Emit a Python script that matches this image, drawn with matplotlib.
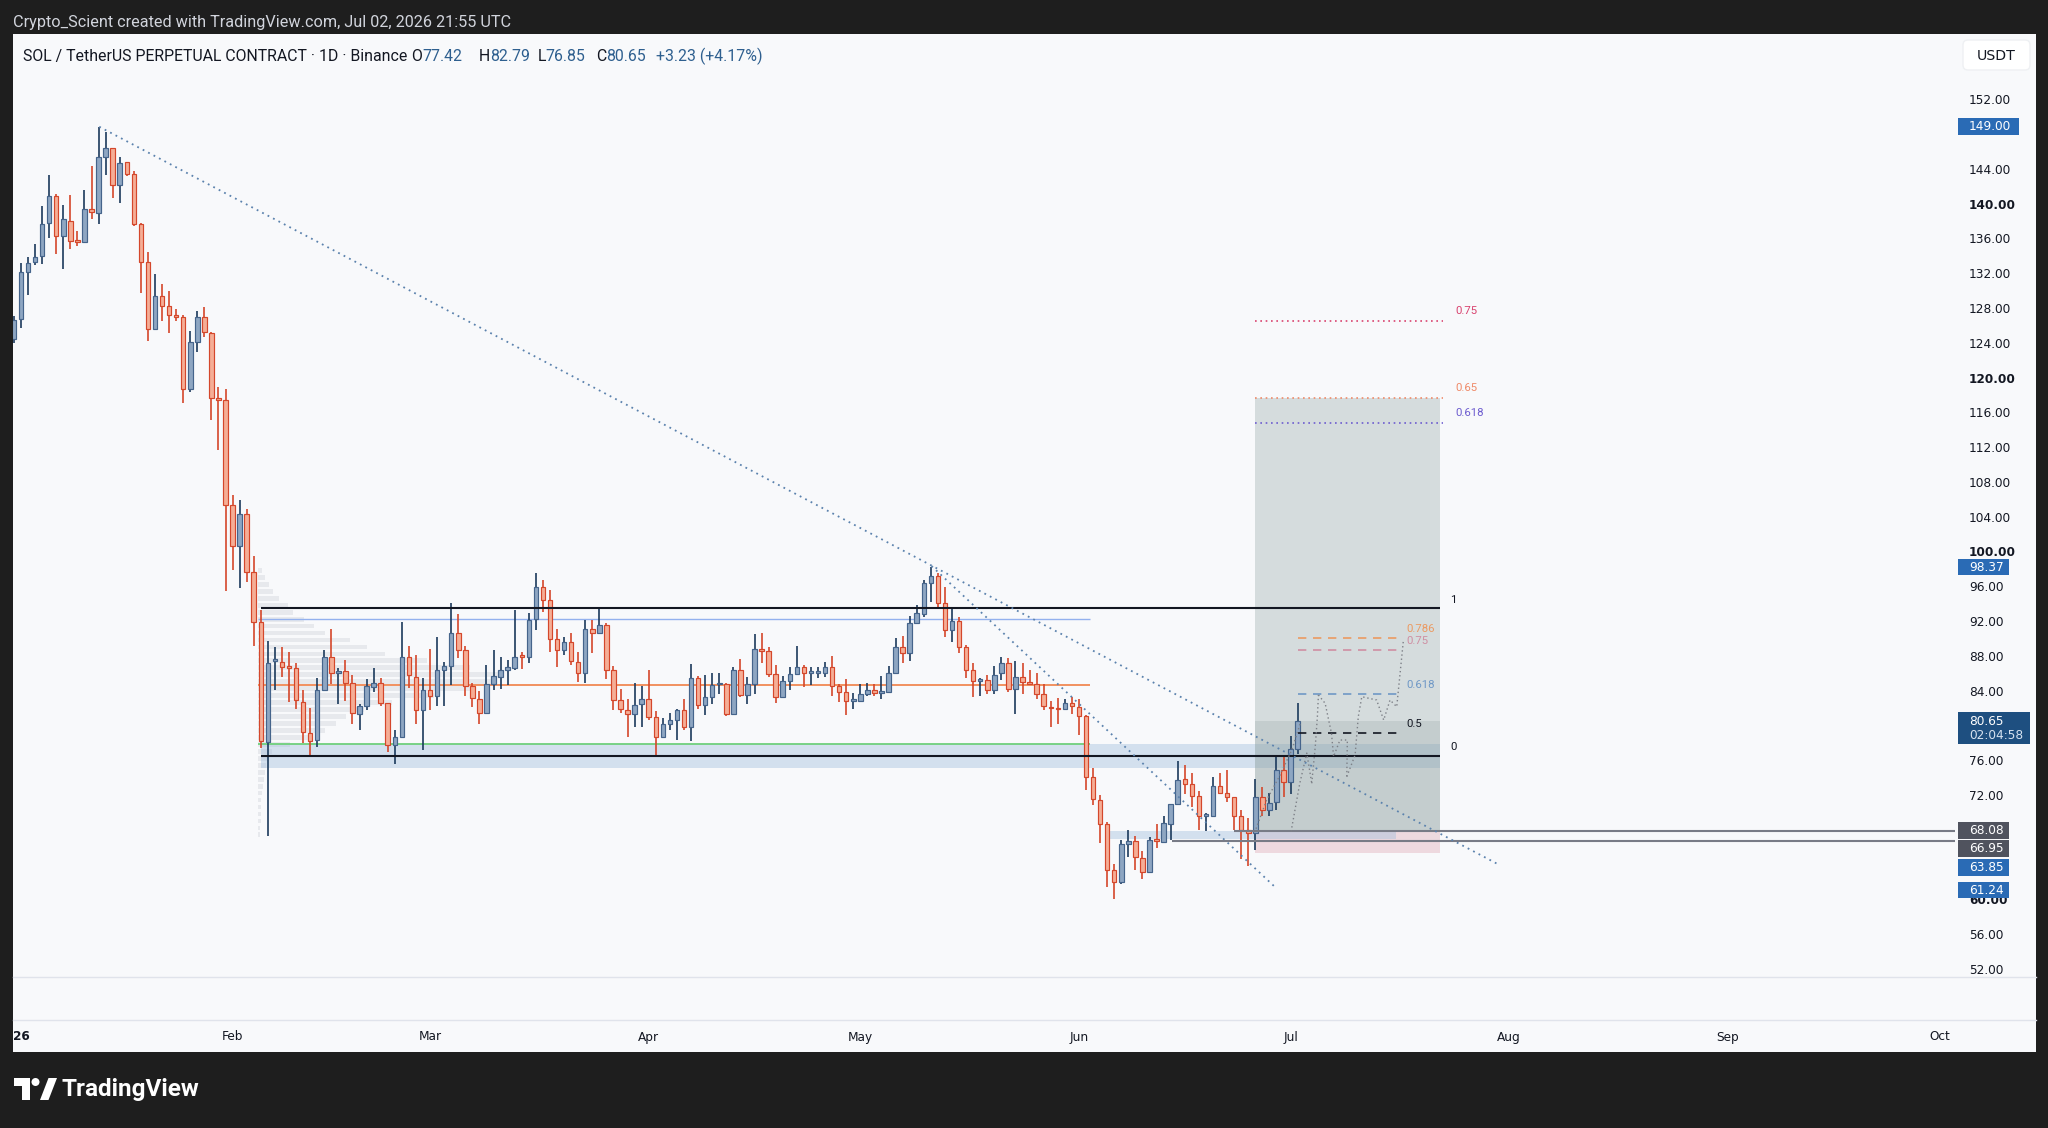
import numpy as np
import matplotlib
matplotlib.use("Agg")
import matplotlib.pyplot as plt
import matplotlib.transforms as mtransforms
from matplotlib.patches import Rectangle, FancyBboxPatch, Circle, Polygon

plt.rcParams['font.family'] = ['Roboto', 'DejaVu Sans']
AXIS_FONT = ['DejaVu Sans']

# ---------------- data (daily candles, day 0 = 2026-01-01) ----------------
opens = [124.6, 126.9, 132.3, 133.4, 134.1, 137.9, 141.0, 136.4, 138.2, 135.9,
         135.8, 139.6, 139.1, 145.5, 146.5, 142.3, 144.9, 143.6, 137.8, 133.4,
         125.7, 129.5, 128.4, 127.4, 127.1, 118.8, 124.2, 127.1, 125.3, 117.8,
         117.6, 105.5, 100.8, 104.5, 97.8, 92.1, 78.3, 87.6, 87.5, 87.0,
         86.8, 82.9, 79.3, 78.5, 84.3, 88.0, 86.2, 86.4, 85.0, 81.5,
         82.4, 84.6, 85.1, 82.7, 77.9, 78.9, 88.0, 85.8, 81.9, 84.3,
         83.6, 86.6, 87.0, 90.8, 88.85, 84.7, 83.2, 81.6, 84.9, 85.8,
         86.6, 86.8, 88.3, 88.1, 92.4, 96.1, 94.6, 90.1, 88.9, 89.8,
         87.5, 86.2, 91.3, 90.8, 91.7, 86.5, 83.1, 82.0, 81.45, 82.6,
         83.2, 81.2, 78.9, 80.4, 80.8, 81.95, 80.0, 85.6, 82.5, 83.4,
         84.9, 84.9, 81.5, 86.55, 83.7, 84.9, 89.0, 88.7, 86.1, 83.5,
         85.3, 86.1, 86.85, 86.2, 86.2, 86.2, 86.85, 84.7, 84.05, 83.0,
         83.0, 83.75, 84.3, 83.9, 84.05, 86.2, 89.15, 88.5, 91.9, 93.0,
         96.5, 97.35, 94.3, 91.15, 92.2, 89.2, 86.55, 85.3, 85.4, 84.3,
         86.2, 87.3, 84.4, 85.7, 85.2, 84.95, 83.8, 82.35, 82.2, 82.05,
         82.7, 82.35, 81.25, 74.3, 71.6, 68.9, 63.6, 62.2, 66.55, 66.9,
         64.9, 63.3, 67.1, 66.8, 68.9, 71.2, 74.0, 73.5, 72.1, 69.8,
         69.8, 73.2, 72.45, 71.9, 69.8, 68.2, 67.8, 71.9, 70.5, 71.4,
         75.1, 73.7, 77.42]
highs = [127.2, 133.3, 134.0, 135.5, 139.9, 143.5, 141.3, 140.0, 141.1, 137.0,
         141.7, 144.5, 149.0, 148.4, 146.6, 145.5, 145.0, 143.9, 137.9, 134.6,
         132.1, 130.9, 130.1, 128.0, 127.4, 125.5, 127.8, 128.3, 125.4, 119.1,
         118.8, 106.7, 106.1, 105.1, 99.6, 93.4, 89.9, 89.2, 89.2, 88.6,
         87.4, 84.3, 82.2, 85.6, 88.8, 91.3, 86.8, 87.7, 86.0, 82.6,
         85.5, 86.8, 85.6, 82.8, 79.6, 92.1, 89.3, 88.3, 85.6, 89.0,
         90.4, 87.5, 94.2, 93.0, 89.3, 85.0, 84.1, 87.1, 88.9, 88.1,
         87.7, 93.4, 88.65, 93.1, 97.7, 96.9, 95.7, 91.3, 90.4, 90.8,
         88.65, 92.3, 92.3, 93.6, 92.0, 87.0, 84.4, 83.2, 85.0, 84.7,
         86.6, 81.8, 81.0, 81.6, 82.1, 83.2, 87.2, 85.9, 86.0, 86.2,
         86.2, 85.1, 86.9, 87.8, 85.8, 90.65, 90.8, 89.2, 87.1, 85.9,
         86.9, 89.3, 87.1, 86.9, 86.9, 87.5, 88.2, 84.9, 85.5, 83.9,
         84.9, 85.0, 84.9, 85.9, 87.0, 90.2, 90.5, 92.8, 94.0, 96.9,
         98.37, 97.7, 96.1, 93.6, 92.6, 89.4, 87.3, 85.6, 86.0, 87.0,
         88.1, 87.9, 87.6, 87.3, 86.55, 86.2, 84.9, 83.0, 83.3, 83.2,
         83.4, 83.2, 81.4, 75.25, 72.2, 69.1, 64.25, 67.0, 68.2, 67.5,
         65.7, 67.4, 68.9, 69.8, 71.2, 76.1, 75.6, 74.75, 72.6, 70.1,
         74.3, 74.75, 75.05, 72.0, 70.4, 69.5, 74.0, 73.1, 72.4, 76.6,
         76.6, 79.0, 82.79]
lows = [124.1, 125.9, 129.6, 133.1, 133.2, 136.2, 134.4, 132.6, 134.9, 135.3,
        135.7, 138.4, 137.8, 143.4, 140.8, 140.2, 143.3, 137.6, 129.9, 124.4,
        125.6, 126.7, 125.3, 126.7, 117.2, 118.5, 123.1, 124.8, 115.3, 111.8,
        95.6, 98.1, 96.0, 96.7, 89.3, 77.6, 67.5, 84.2, 85.7, 82.9,
        82.1, 78.2, 76.8, 77.7, 84.2, 84.9, 82.6, 83.0, 80.4, 79.6,
        81.9, 84.0, 82.4, 77.1, 75.7, 78.8, 84.5, 80.4, 77.3, 81.9,
        82.4, 82.4, 84.8, 87.9, 83.6, 82.3, 80.3, 81.5, 84.2, 84.4,
        84.8, 86.5, 86.7, 87.4, 91.2, 93.25, 88.65, 86.9, 88.3, 87.1,
        85.2, 85.1, 88.5, 90.75, 85.5, 81.9, 81.6, 78.9, 80.0, 80.0,
        80.8, 76.7, 78.9, 79.65, 78.5, 79.65, 78.4, 82.1, 81.4, 82.6,
        83.8, 81.3, 81.4, 83.4, 82.6, 83.8, 87.3, 85.8, 82.8, 83.4,
        84.3, 86.0, 84.6, 84.8, 85.6, 85.8, 83.6, 82.9, 81.4, 82.1,
        83.0, 83.6, 83.6, 83.2, 84.0, 86.15, 87.4, 87.6, 91.8, 92.6,
        94.4, 93.6, 90.3, 89.8, 88.5, 85.6, 83.4, 83.6, 83.8, 83.8,
        85.4, 84.05, 81.5, 83.8, 84.8, 83.2, 82.0, 80.0, 80.4, 81.9,
        81.45, 79.1, 72.8, 71.0, 66.7, 61.6, 60.2, 62.0, 65.1, 63.6,
        62.5, 63.2, 66.05, 66.7, 67.0, 71.2, 72.3, 70.8, 68.2, 68.0,
        69.7, 72.3, 71.4, 68.2, 64.8, 64.0, 65.9, 69.8, 69.8, 70.5,
        71.9, 72.3, 76.85]
closes = [126.8, 132.3, 133.3, 134.0, 137.8, 141.0, 136.4, 138.4, 135.9, 135.8,
          139.6, 139.2, 145.5, 146.6, 142.3, 144.8, 143.6, 137.8, 133.4, 125.7,
          129.5, 128.4, 127.4, 127.1, 118.8, 124.2, 127.1, 125.4, 117.8, 117.6,
          105.5, 100.8, 104.5, 97.8, 92.1, 78.4, 87.4, 87.8, 86.9, 86.8,
          83.1, 79.4, 78.4, 84.3, 88.0, 86.2, 86.4, 85.0, 81.6, 82.4,
          84.7, 85.1, 82.7, 77.9, 78.9, 88.0, 86.0, 81.9, 84.3, 83.6,
          86.6, 87.0, 90.8, 88.85, 84.7, 83.3, 81.6, 84.9, 85.9, 86.55,
          86.85, 88.1, 88.1, 92.3, 96.1, 94.6, 90.1, 88.9, 89.8, 87.6,
          86.2, 91.3, 90.8, 91.7, 86.55, 83.1, 82.1, 81.45, 82.5, 83.2,
          81.2, 78.9, 80.4, 80.8, 81.95, 80.0, 85.6, 82.5, 83.4, 84.8,
          85.0, 81.5, 86.55, 83.7, 84.9, 89.0, 88.7, 86.1, 83.5, 85.3,
          86.1, 86.85, 86.2, 86.3, 86.3, 86.85, 84.7, 84.05, 83.0, 83.2,
          83.75, 84.3, 83.9, 84.05, 86.2, 89.15, 88.5, 91.9, 93.1, 96.5,
          97.35, 94.3, 91.2, 92.2, 89.2, 86.6, 85.3, 85.4, 84.3, 86.0,
          87.3, 84.4, 85.8, 85.2, 84.95, 83.8, 82.45, 82.15, 82.05, 82.7,
          82.45, 81.25, 74.3, 71.7, 68.9, 63.6, 62.2, 66.55, 66.9, 65.0,
          63.3, 67.0, 66.9, 69.0, 71.2, 73.9, 73.45, 72.1, 69.8, 70.0,
          73.2, 72.45, 72.0, 69.8, 68.2, 67.8, 71.9, 70.5, 71.3, 75.1,
          73.7, 77.42, 80.65]

# time axis
month_labels = ['26', 'Feb', 'Mar', 'Apr', 'May', 'Jun', 'Jul', 'Aug', 'Sep', 'Oct']
month_days = [0, 31, 59, 90, 120, 151, 181, 212, 243, 273]

# price axis (ticks hidden behind the price boxes are left out)
price_ticks = [52, 56, 60, 72, 76, 84, 88, 92, 96, 100, 104, 108, 112,
               116, 120, 124, 128, 132, 136, 140, 144, 152]
bold_ticks = [60, 80, 100, 120, 140]

# fixed range volume profile (row price, row length in days)
vp_prices = [98.0, 97.2, 96.4, 95.6, 94.8, 94.0, 93.2, 92.4, 91.6, 90.8, 90.0, 89.2,
             88.4, 87.6, 86.8, 86.0, 85.2, 84.4, 83.6, 82.8, 82.0, 81.2, 80.4, 79.6,
             78.8, 78.0, 77.2, 76.4, 75.6, 74.8, 74.0, 73.2, 72.4, 71.6, 70.8, 70.0,
             69.2, 68.4, 67.6]
vp_lengths = [0.6, 1.0, 1.6, 2.2, 3.0, 4.2, 5.0, 6.5, 8.0, 9.5, 13.0, 15.5,
              18.0, 24.0, 30.0, 34.0, 33.0, 30.0, 25.0, 19.0, 15.0, 12.5, 11.0, 9.5,
              7.5, 4.5, 2.0, 1.5, 1.2, 1.0, 0.8, 0.7, 0.6, 0.5, 0.5, 0.4,
              0.4, 0.3, 0.3]
vp_start = 34.6
vah, poc, val = 92.43, 84.83, 78.05
vp_end = 152.6

# range levels ("1" / "0") and demand zone
range_top, range_bottom = 93.65, 76.65
range_start, range_end = 35.0, 202.2
zone_top, zone_bottom = 78.05, 75.3
small_zone = (155.4, 196.0, 67.1, 68.1)

# trend lines (day, price)
trend1 = [(12.1, 149.0), (210.7, 64.1)]
trend2 = [(130.1, 98.5), (178.8, 61.6)]

# long position
pos_x0, pos_x1 = 176.0, 202.2
pos_entry, pos_target, pos_stop, last_price = 68.08, 117.78, 65.48, 80.65

# extension levels (dotted, top)
ext_levels = ['0.75', '0.65', '0.618']
ext_prices = [126.67, 117.78, 114.98]
ext_label_y = [127.85, 118.95, 116.1]
ext_colors = ['#d9436f', '#ef8a68', '#6d5ccf']
# retracement levels (dashed, inside box)
ret_levels = ['0.786', '0.75', '0.618', '0.5']
ret_prices = [90.19, 88.85, 83.76, 79.27]
ret_label_y = [91.26, 89.89, 84.8, 80.3]
ret_colors = ['#eb9a62', '#cf8fa3', '#6f98c6', '#131722']
ret_x = (182.1, 196.1)

# horizontal rays
ray1_start, ray1_price = 173.0, 68.08
ray2_start, ray2_price = 164.2, 66.95

# projected path (dotted, hand drawn)
proj_a = [(181.07, 67.97), (182.3, 73.5), (183.3, 77.0), (184.0, 73.53)]
proj_b = [(184.0, 73.53), (184.5, 77.74), (184.8, 81.18), (184.95, 83.68)]
proj_c = [(184.95, 83.68), (185.9, 82.72), (186.4, 80.8), (186.8, 79.27), (187.1, 76.59),
          (188.0, 78.5), (189.05, 78.5), (188.97, 74.29)]
proj_d = [(188.97, 74.29), (190.15, 76.78), (190.6, 81.18), (191.1, 83.48), (193.2, 83.1),
          (194.2, 80.8), (195.1, 83.1), (196.05, 82.33), (197.0, 90.0)]
proj_e = [(176.1, 68.3), (177.6, 71.6), (179.4, 74.3), (181.2, 77.4), (182.4, 80.5)]

# price scale labels: (price, text, color)
scale_labels = [(149.00, '149.00', '#2a6bb5'), (98.37, '98.37', '#2a6bb5'),
                (68.08, '68.08', '#50535e'), (66.95, '66.95', '#50535e'),
                (63.85, '63.85', '#2a6bb5'), (61.24, '61.24', '#2a6bb5')]

# ---------------- figure ----------------
W, H = 2048, 1128
fig = plt.figure(figsize=(W / 100, H / 100), dpi=100)
fig.patch.set_facecolor('#1e1e1e')
PIX = mtransforms.Affine2D().scale(1.0 / W, -1.0 / H).translate(0, 1) + fig.transFigure

BG = '#f8f9fb'
fig.add_artist(Rectangle((13, 34), 2036 - 13, 1052 - 34, transform=PIX,
                         facecolor=BG, edgecolor='none', zorder=-5))

AX_L, AX_R, AX_T, AX_B = 13, 1955, 34, 977
ax = fig.add_axes([AX_L / W, 1 - AX_B / H, (AX_R - AX_L) / W, (AX_B - AX_T) / H])
ax.set_facecolor(BG)
ax.set_xlim(-0.13, 275.2)
ax.set_ylim(51.26, 159.66)
for s in ax.spines.values():
    s.set_visible(False)
ax.set_xticks([])
ax.set_yticks([])
px_per_unit = (AX_B - AX_T) / (159.66 - 51.26)

# separators
for yy in (977, 1020):
    fig.add_artist(plt.Line2D([13, 2036], [yy, yy], transform=PIX, color='#e0e3eb', lw=1.0, zorder=2))

# volume profile
ax.barh(vp_prices, vp_lengths, left=vp_start, height=0.55, color='#dcdfe4', alpha=0.6, zorder=1, linewidth=0)
ax.hlines([vah], vp_start, vp_end, color='#93b1ee', lw=1.0, zorder=2)
ax.hlines([poc], vp_start, vp_end, color='#ef7535', lw=1.1, zorder=2)
ax.hlines([val], vp_start, vp_end, color='#6fd07c', lw=1.3, zorder=2)

# zones
ax.add_patch(Rectangle((range_start, zone_bottom), range_end - range_start, zone_top - zone_bottom,
                       facecolor='#9dbbdc', alpha=0.40, edgecolor='none', zorder=1))
ax.add_patch(Rectangle((pos_x0, pos_entry), pos_x1 - pos_x0, pos_target - pos_entry,
                       facecolor='#97a9aa', alpha=0.36, edgecolor='none', zorder=1))
ax.add_patch(Rectangle((pos_x0, pos_entry), pos_x1 - pos_x0, last_price - pos_entry,
                       facecolor='#8a9b9d', alpha=0.22, edgecolor='none', zorder=1))
ax.add_patch(Rectangle((pos_x0, pos_stop), pos_x1 - pos_x0, pos_entry - pos_stop,
                       facecolor='#de9eab', alpha=0.35, edgecolor='none', zorder=1))
ax.add_patch(Rectangle((small_zone[0], small_zone[2]), small_zone[1] - small_zone[0],
                       small_zone[3] - small_zone[2], facecolor='#9dbbdc', alpha=0.40,
                       edgecolor='none', zorder=1))

# range lines
ax.hlines([range_top, range_bottom], range_start, range_end, color='#131722', lw=1.5, zorder=5)
ax.text(203.6, range_top + 1.0, '1', fontsize=8.2, color='#131722', ha='left', va='center', zorder=8)
ax.text(203.6, range_bottom + 1.1, '0', fontsize=8.2, color='#131722', ha='left', va='center', zorder=8)

# rays
ax.hlines([ray1_price], ray1_start, 275.2, color='#787b86', lw=1.5, zorder=5)
ax.hlines([ray2_price], ray2_start, 275.2, color='#787b86', lw=1.5, zorder=5)

# candles
o = np.array(opens); h = np.array(highs); l = np.array(lows); c = np.array(closes)
d = np.arange(len(o))
up = c >= o
lo = np.minimum(o, c)
bh = np.maximum(np.abs(c - o), 0.18)
ax.vlines(d[up], l[up], h[up], color='#1b3a5c', lw=1.2, zorder=3)
ax.vlines(d[~up], l[~up], h[~up], color='#d4472b', lw=1.2, zorder=3)
ax.bar(d[up], bh[up], bottom=lo[up], width=0.64, color='#8ea6c2', edgecolor='#45648b', linewidth=0.85, zorder=4)
ax.bar(d[~up], bh[~up], bottom=lo[~up], width=0.64, color='#f5ae96', edgecolor='#d4472b', linewidth=0.85, zorder=4)

# trend lines
for tl in (trend1, trend2):
    xs, ys = zip(*tl)
    ax.plot(xs, ys, color='#5b82ad', lw=1.3, linestyle=(0, (1.0, 2.4)), zorder=6)

# extension levels
for lab, pr, ly, col in zip(ext_levels, ext_prices, ext_label_y, ext_colors):
    ax.hlines([pr], pos_x0, 202.6, color=col, lw=1.2, linestyles=[(0, (1.0, 2.2))], zorder=6)
    ax.text(204.3, ly, lab, fontsize=8.2, color=col, ha='left', va='center', zorder=8)

# retracement levels
for lab, pr, ly, col in zip(ret_levels, ret_prices, ret_label_y, ret_colors):
    ax.hlines([pr], ret_x[0], ret_x[1], color=col, lw=1.2, linestyles=[(0, (5, 4))], zorder=6)
    ax.text(197.4, ly, lab, fontsize=8.2, color=col, ha='left', va='center', zorder=8)

# projection paths
for path in (proj_a, proj_b, proj_c, proj_d, proj_e):
    xs, ys = zip(*path)
    ax.plot(xs, ys, color='#7d8087', lw=1.0, linestyle=(0, (1.0, 2.0)), zorder=6)

# ---------------- price scale ----------------
xfig_ydata = mtransforms.blended_transform_factory(fig.transFigure, ax.transData)
AXFS = 8.7
for v in price_ticks:
    fig.text(1969 / W, v, f'{v:.2f}', transform=xfig_ydata, ha='left', va='center',
             fontsize=AXFS, family=AXIS_FONT, color='#131722',
             fontweight='bold' if v in bold_ticks else 'normal', zorder=10)

box_h = 16.5 / px_per_unit
for pr, txt, col in scale_labels:
    yc = pr - (8.0 / px_per_unit if txt == '66.95' else 0.0)
    wpx = 61 if txt == '149.00' else 51
    fig.add_artist(Rectangle((1958 / W, yc - box_h / 2), wpx / W, box_h, transform=xfig_ydata,
                             facecolor=col, edgecolor='none', zorder=20))
    fig.text(1969 / W, yc, txt, transform=xfig_ydata, ha='left', va='center', fontsize=AXFS,
             family=AXIS_FONT, color='white', zorder=21)

# last price box
lp_top = last_price + 9.5 / px_per_unit
lp_h = 32 / px_per_unit
fig.add_artist(Rectangle((1958 / W, lp_top - lp_h), 72 / W, lp_h, transform=xfig_ydata,
                         facecolor='#1e4f80', edgecolor='none', zorder=20))
fig.text(1969 / W, last_price, '80.65', transform=xfig_ydata, ha='left', va='center',
         fontsize=AXFS, family=AXIS_FONT, color='white', zorder=21)
fig.text(1969 / W, last_price - 14 / px_per_unit, '02:04:58', transform=xfig_ydata, ha='left',
         va='center', fontsize=AXFS, family=AXIS_FONT, color='#d6e2f0', zorder=21)

# USDT box
fig.add_artist(FancyBboxPatch((1963, 40), 67, 30, boxstyle='round,pad=0,rounding_size=5',
                              transform=PIX, facecolor='white', edgecolor='#eef0f3', zorder=20))
fig.text(1996.5, 55.5, 'USDT', transform=PIX, ha='center', va='center', fontsize=10.2,
         family=AXIS_FONT, color='#131722', zorder=21)

# ---------------- time axis ----------------
xdata_yfig = mtransforms.blended_transform_factory(ax.transData, PIX)
for lab, dd in zip(month_labels, month_days):
    if lab == '26':
        fig.text(-0.13, 1037, lab, transform=xdata_yfig, ha='left', va='center', fontsize=AXFS,
                 family=AXIS_FONT, color='#131722', fontweight='bold', zorder=10)
    else:
        fig.text(dd, 1037, lab, transform=xdata_yfig, ha='center', va='center', fontsize=AXFS,
                 family=AXIS_FONT, color='#131722', zorder=10)

# ---------------- header texts ----------------
renderer = fig.canvas.get_renderer()
fig.text(13, 22.5, 'Crypto_Scient created with TradingView.com, Jul 02, 2026 21:55 UTC',
         transform=PIX, ha='left', va='center', fontsize=11.7, color='#d1d4dc')
HFS = 11.4
fig.text(23, 56.5, 'SOL / TetherUS PERPETUAL CONTRACT · 1D · Binance', transform=PIX,
         ha='left', va='center', fontsize=HFS, color='#131722')

VAL_COL = '#2e5f8f'
def seq(x, parts):
    for s, col in parts:
        t = fig.text(x, 56.5, s, transform=PIX, ha='left', va='center', fontsize=HFS, color=col)
        x += t.get_window_extent(renderer=renderer).width

seq(411.5, [('O', '#131722'), ('77.42', VAL_COL)])
seq(478.8, [('H', '#131722'), ('82.79', VAL_COL)])
seq(537.5, [('L', '#131722'), ('76.85', VAL_COL)])
seq(596.3, [('C', '#131722'), ('80.65', VAL_COL)])
seq(656.4, [('+3.23 (+4.17%)', VAL_COL)])

# ---------------- logo ----------------
fig.add_artist(Polygon([(14, 1078), (30, 1078), (30, 1100), (22, 1100), (22, 1086), (14, 1086)],
                       closed=True, transform=PIX, facecolor='white', edgecolor='none'))
fig.add_artist(Circle((35.5, 1082), 4.0, transform=PIX, facecolor='white', edgecolor='none'))
fig.add_artist(Polygon([(40, 1100), (48.5, 1078), (57, 1078), (48.5, 1100)], closed=True,
                       transform=PIX, facecolor='white', edgecolor='none'))
fig.text(61, 1089.5, 'TradingView', transform=PIX, ha='left', va='center', fontsize=17.5,
         color='white', fontweight='bold')

fig.savefig('out.png', dpi=100, facecolor=fig.get_facecolor())
